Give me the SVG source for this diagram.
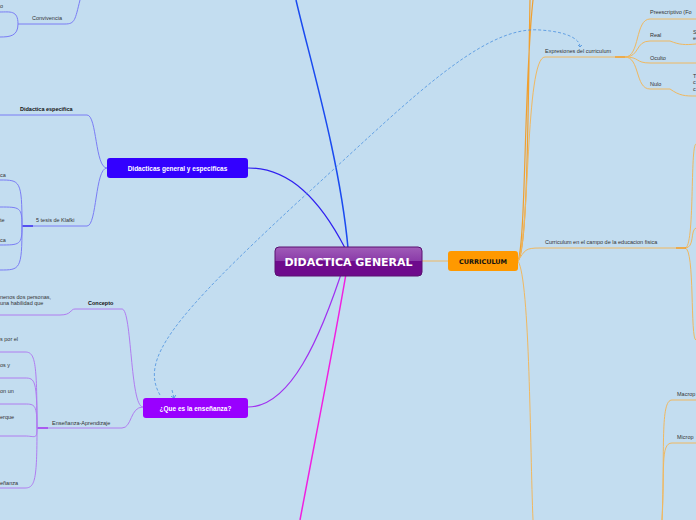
<svg xmlns="http://www.w3.org/2000/svg" width="696" height="520" viewBox="0 0 696 520">
<style>
text{font-family:"Liberation Sans",Arial,sans-serif;font-size:5.5px;fill:#333}
.b{font-weight:bold;fill:#111}
.o{fill:none;stroke:#f0b860;stroke-width:1}
.p{fill:none;stroke:#b07cf0;stroke-width:1}
.bl{fill:none;stroke:#7a7cf5;stroke-width:1}
</style>
<rect width="696" height="520" fill="#c3ddf0"/>
<defs>
<linearGradient id="g" x1="0" y1="0" x2="0" y2="1"><stop offset="0" stop-color="#a05cb8"/><stop offset="0.5" stop-color="#8a3aa8"/><stop offset="0.5" stop-color="#6e0a8c"/><stop offset="1" stop-color="#6e0a8c"/></linearGradient>
<marker id="a" markerWidth="6" markerHeight="6" refX="3" refY="3" orient="auto"><path d="M0,0 L3,3 L0,6" fill="none" stroke="#4a90e0" stroke-width="1"/></marker>
</defs>
<g id="connectors">
<path d="M348,248 C340,160 310,60 296,0" fill="none" stroke="#1a4af0" stroke-width="1.5"/>
<path d="M348,262 C335,340 315,440 300,520" fill="none" stroke="#f020e0" stroke-width="1.5"/>
<path d="M345,248 C320,200 290,168 248,168" fill="none" stroke="#3020f0" stroke-width="1.2"/>
<path d="M345,262 C320,340 290,407 248,407" fill="none" stroke="#a030f0" stroke-width="1.2"/>
<line x1="422" y1="261" x2="448" y2="261" stroke="#f0b860"/>
<path d="M518,261 C528,250 528,100 530,0 M518,261 C526,240 524,80 533,0" fill="none" stroke="#f0a030" stroke-width="1.2"/>
<path class="o" d="M518,261 C530,240 525,57 545,57 L625,57"/>
<path class="o" d="M518,261 C525,250 525,248 540,248 L685,248"/>
<path class="o" d="M518,261 C530,280 530,450 533,520"/>
<path class="o" d="M625,57 C640,57 635,19 650,19 L696,19 M625,57 C640,57 635,41 650,41 L670,41 C680,45 685,45 696,44 M625,57 C640,57 635,63 650,63 L696,63 M625,57 C640,57 635,89 650,89 L670,89 C680,96 685,96 696,96"/>
<line x1="615" y1="57" x2="625" y2="57" stroke="#f0a030" stroke-width="1.5"/>
<path class="o" d="M685,248 C695,248 690,145 696,144 M685,248 C695,248 690,230 696,228 M685,248 C695,248 690,340 696,340"/>
<line x1="676" y1="248" x2="686" y2="248" stroke="#f0a030" stroke-width="1.5"/>
<path class="o" d="M662,520 C665,450 660,400 672,400 L696,400 M662,520 C665,470 660,443 672,443 L696,443"/>
<path d="M160,395 C140,360 170,320 300,200 C400,110 480,25 540,30 C570,32 580,40 580,47" fill="none" stroke="#4a90e0" stroke-width="0.8" stroke-dasharray="3,2" marker-end="url(#a)"/>
<path d="M172,390 L174,398" fill="none" stroke="#4a90e0" stroke-width="0.8" stroke-dasharray="3,2" marker-end="url(#a)"/>
<path class="bl" d="M107,168 C95,168 97,115 87,115 L0,115"/>
<path class="bl" d="M107,168 C95,168 97,226 87,226 L33,226"/>
<line x1="22" y1="226" x2="33" y2="226" stroke="#3020f0" stroke-width="1.5"/>
<path class="bl" d="M22,226 C22,180 20,180 0,180 M22,226 C22,207 20,207 0,207 M22,226 C22,245 20,245 0,245 M22,226 C22,270 20,270 0,270"/>
<path class="bl" d="M80,0 C75,20 75,24 65,24 L28,24 L18,24 C18,10 10,12 0,12 M18,24 C18,36 10,37 0,37"/>
<path class="p" d="M143,407 C130,407 132,309 122,309 L75,309 C70,309 72,315 60,315 L0,315"/>
<path class="p" d="M143,407 C130,407 132,428 122,428 L48,428"/>
<line x1="37" y1="428" x2="48" y2="428" stroke="#a030f0" stroke-width="1.5"/>
<path class="p" d="M37,428 C37,360 35,352 25,352 L0,352 M37,428 C37,380 35,378 25,378 L0,378 M37,428 C37,405 35,404 25,404 L0,404 M37,428 C37,440 35,436 25,436 L0,436 M37,428 C37,480 35,488 25,488 L0,488"/>
</g>
<g id="center"><rect x="275" y="247" width="147" height="29" rx="4" fill="url(#g)" stroke="#5a1070"/><text x="348.5" y="266" text-anchor="middle" style="font-size:11px;font-weight:bold;fill:#fff;font-family:'DejaVu Sans',sans-serif">DIDACTICA GENERAL</text></g>
<g id="curriculum"><rect x="448" y="251" width="70" height="20" rx="3" fill="#ff9900"/><text x="483" y="264" text-anchor="middle" class="b" style="font-size:6.5px;font-family:'DejaVu Sans',sans-serif">CURRICULUM</text></g>
<g id="didacticas"><rect x="107" y="158" width="141" height="20" rx="3" fill="#3300ff"/><text x="177.5" y="171" text-anchor="middle" style="font-size:6.5px;font-weight:bold;fill:#fff">Didacticas general y especificas</text></g>
<g id="ensenanza"><rect x="143" y="398" width="105" height="20" rx="3" fill="#9900ff"/><text x="195.5" y="411" text-anchor="middle" style="font-size:6.5px;font-weight:bold;fill:#fff">¿Que es la enseñanza?</text></g>
<g id="labels">
<text x="545" y="53">Expresiones del curriculum</text>
<text x="545" y="244">Curriculum en el campo de la educacion fisica</text>
<text x="650" y="14">Preescriptivo (Fo</text>
<text x="650" y="37">Real</text>
<text x="693" y="34">S</text><text x="693" y="40">e</text>
<text x="650" y="60">Oculto</text>
<text x="650" y="86">Nulo</text>
<text x="693" y="78">T</text><text x="693" y="84">c</text><text x="693" y="91">c</text>
<text x="677" y="396">Macrop</text>
<text x="677" y="439">Microp</text>
<text x="20" y="111" class="b">Didactica especifica</text>
<text x="36" y="222">5 tesis de Klafki</text>
<text x="0" y="177">ca</text><text x="0" y="222">te</text><text x="0" y="242">ca</text>
<text x="32" y="20">Convivencia</text><text x="0" y="8">o</text>
<text x="88" y="305" class="b">Concepto</text>
<text x="0" y="299">nenos dos personas,</text><text x="0" y="305">  una habilidad que</text>
<text x="52" y="425">Enseñanza-Aprendizaje</text>
<text x="0" y="341">s por el</text><text x="0" y="367">os y</text><text x="0" y="393">on un</text><text x="0" y="419">erque</text><text x="0" y="485">eñanza</text>
</g>
</svg>
